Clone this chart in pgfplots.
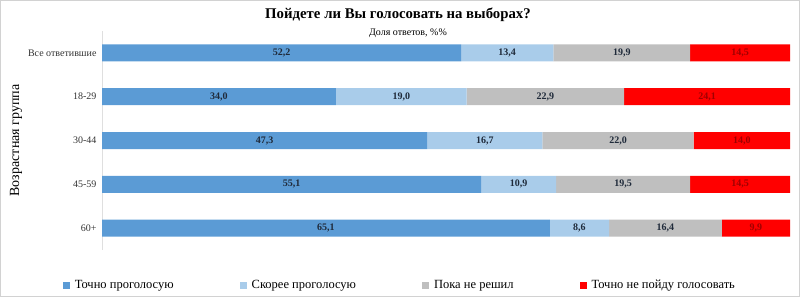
\documentclass[border=0pt]{standalone}
\usepackage{pgfplots}
\pgfplotsset{compat=1.18}
\usepackage{fontspec}
\setmainfont{Liberation Serif}
\definecolor{cA}{HTML}{5B9BD5}
\definecolor{cB}{HTML}{A9CCEA}
\definecolor{cC}{HTML}{BFBFBF}
\definecolor{cD}{HTML}{FF0000}
\definecolor{darkred}{HTML}{A00000}
\definecolor{lbl}{HTML}{1F2A3A}
\begin{document}
\begin{tikzpicture}[x=1pt,y=1pt]
\path[use as bounding box] (0,0) rectangle (800,297);
\draw[gray!35] (0.5,0.5) rectangle (799.5,296.5);
\node[font=\bfseries\fontsize{14.8}{16}\selectfont] at (398,282) {Пойдете ли Вы голосовать на выборах?};
\node[font=\fontsize{10}{11}\selectfont] at (408,264) {Доля ответов, \%\%};
\begin{axis}[
  at={(102pt,47pt)}, anchor=south west,
  scale only axis, width=688pt, height=219pt,
  xbar stacked, bar width=17pt,
  xmin=0, xmax=100,
  ymin=-0.5, ymax=4.5, y dir=reverse,
  ytick={0,1,2,3,4},
  yticklabels={Все ответившие,18-29,30-44,45-59,60+},
  yticklabel style={font=\fontsize{10}{11}\selectfont, text=black!80, xshift=-2pt},
  major tick length=0pt,
  axis x line=none,
  axis y line*=left,
  y axis line style={gray!25},
  ylabel={Возрастная группа},
  ylabel style={font=\fontsize{14}{15}\selectfont, yshift=-1pt},
  point meta=rawx,
  nodes near coords={\textbf{\pgfmathprintnumber{\pgfplotspointmeta}}},
  nodes near coords style={anchor=center, font=\fontsize{10}{11}\selectfont, text=lbl},
  /pgf/number format/.cd, fixed, fixed zerofill, precision=1, use comma, assume math mode=true,
  /pgfplots/.cd,
  legend columns=4,
  legend style={at={(0.433,-0.16)}, anchor=center, draw=none, fill=none,
    font=\fontsize{12.5}{14}\selectfont,
    /tikz/every even column/.append style={column sep=64pt}},
  legend image code/.code={\fill[#1] (0pt,-3.5pt) rectangle (7pt,3.5pt);},
  legend style={/tikz/every odd column/.append style={column sep=3pt}},
]
\addplot[fill=cA, draw=none] coordinates {(52.2,0) (34.0,1) (47.3,2) (55.1,3) (65.1,4)};
\addplot[fill=cB, draw=none] coordinates {(13.4,0) (19.0,1) (16.7,2) (10.9,3) (8.6,4)};
\addplot[fill=cC, draw=none] coordinates {(19.9,0) (22.9,1) (22.0,2) (19.5,3) (16.4,4)};
\addplot[fill=cD, draw=none, nodes near coords style={text=darkred}] coordinates {(14.5,0) (24.1,1) (14.0,2) (14.5,3) (9.9,4)};
\legend{Точно проголосую, Скорее проголосую, Пока не решил, Точно не пойду голосовать}
\end{axis}
\end{tikzpicture}
\end{document}
